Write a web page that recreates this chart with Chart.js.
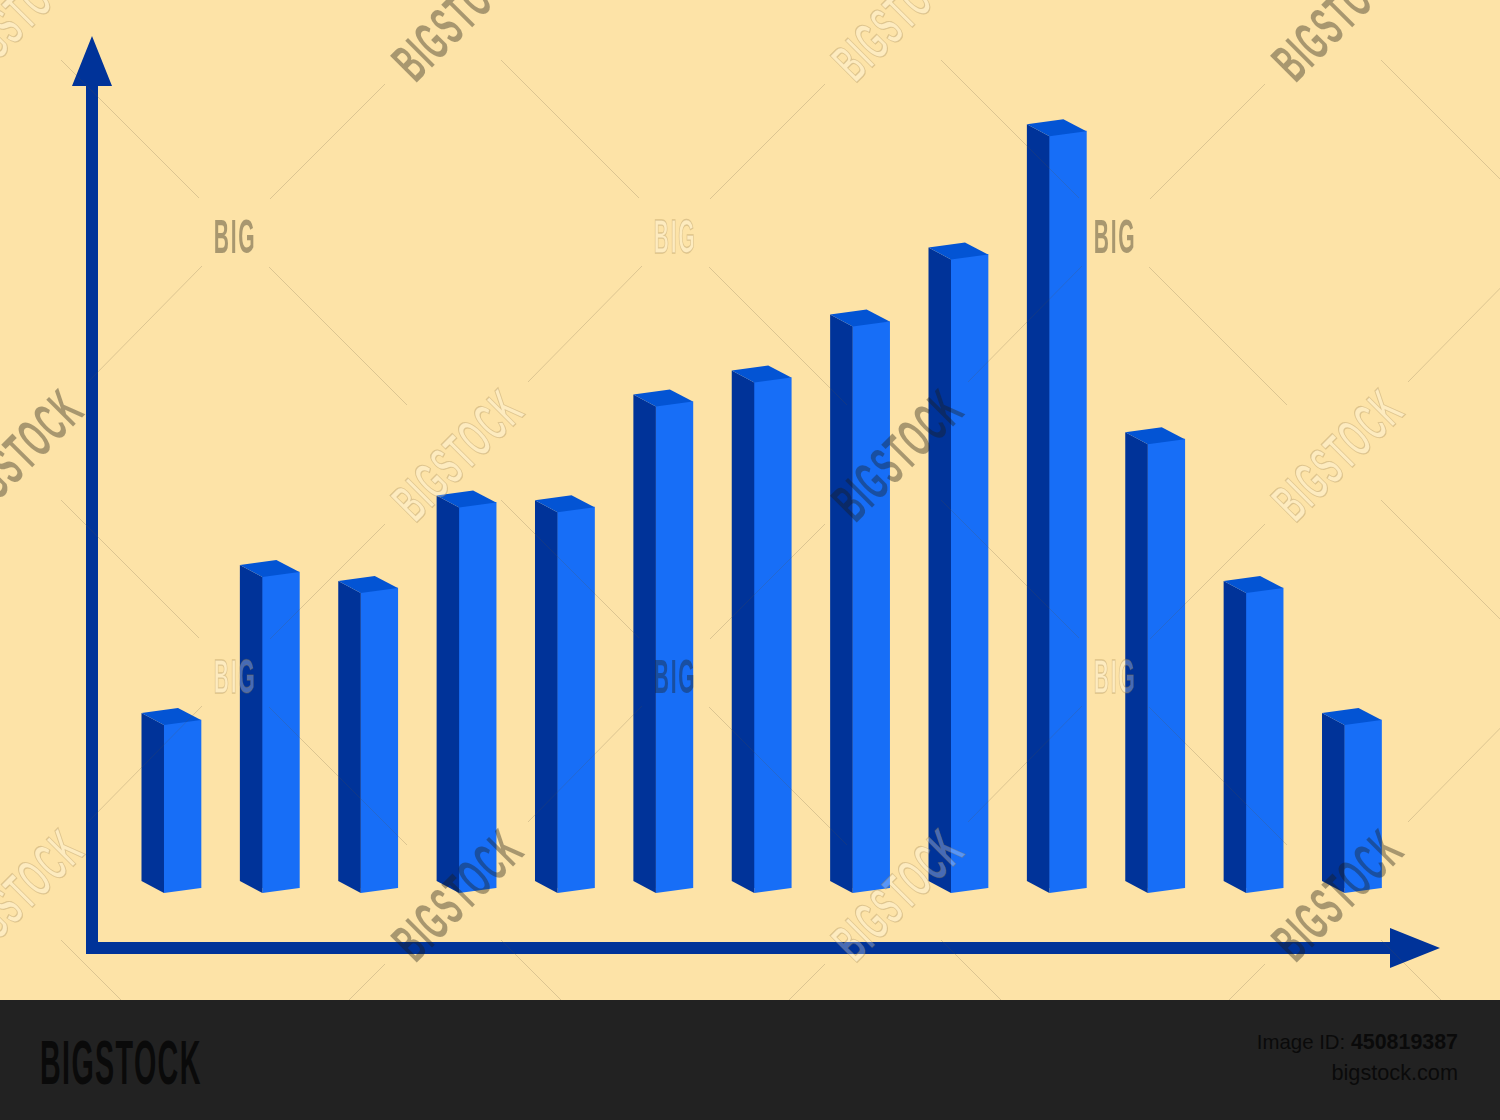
<!DOCTYPE html>
<html>
<head>
<meta charset="utf-8">
<title>Bar chart</title>
<script src="https://cdn.jsdelivr.net/npm/chart.js@4/dist/chart.umd.min.js"></script>
<style>
  html, body { margin: 0; padding: 0; background: #fde3a7; }
  #wrap { position: relative; width: 1500px; height: 1120px; overflow: hidden; }
  canvas { display: block; }
  #footer { position: absolute; left: 0; top: 1000px; width: 1500px; height: 120px; background: #222222; color: #0a0a0a; font-family: "Liberation Sans", sans-serif; }
  #logo { position: absolute; left: 40px; top: 26px; font-size: 63px; line-height: 72px; font-weight: bold; letter-spacing: 3px; transform: scaleX(0.455); transform-origin: left center; white-space: nowrap; }
  #imageId { position: absolute; right: 42px; top: 30px; font-size: 20.4px; line-height: 24px; white-space: nowrap; }
  #imageId b { font-size: 21.4px; }
  #site { position: absolute; right: 42px; top: 61px; font-size: 21.7px; line-height: 24px; white-space: nowrap; }
</style>
</head>
<body>
<div id="wrap">
  <canvas id="chart" width="1500" height="1000"></canvas>
  <div id="footer">
    <div id="logo">BIGSTOCK</div>
    <div id="imageId">Image ID: <b>450819387</b></div>
    <div id="site">bigstock.com</div>
  </div>
</div>
<script>
const categories = ['1', '2', '3', '4', '5', '6', '7', '8', '9', '10', '11', '12', '13'];
const values = [21, 39.5, 37.5, 48.2, 47.6, 60.8, 63.8, 70.8, 79.2, 94.6, 56.1, 37.5, 21];

const FRONT = '#176ef7';
const SIDE = '#003399';
const TOP = '#0354d4';
const AXIS = '#003399';

function poly(ctx, pts, color) {
  ctx.fillStyle = color;
  ctx.beginPath();
  pts.forEach((p, i) => i ? ctx.lineTo(p[0], p[1]) : ctx.moveTo(p[0], p[1]));
  ctx.closePath();
  ctx.fill();
}

// ---- 3D faces, built on the bar elements ----
const boxFaces = {
  id: 'boxFaces',
  afterDatasetsDraw(chart) {
    const ctx = chart.ctx;
    const bars = chart.getDatasetMeta(0).data;
    ctx.save();
    bars.forEach(bar => {
      const l = bar.x - bar.width / 2;
      const r = bar.x + bar.width / 2;
      const t = bar.y;
      const b = bar.base;
      // lower edge of the front slopes down to the left
      poly(ctx, [[l, b], [r, b], [l, b + 5]], FRONT);
      poly(ctx, [[l - 22.5, t - 7], [l, t + 5], [l, b + 5], [l - 22.5, b - 7]], SIDE);
      poly(ctx, [[l - 22.5, t - 7], [l + 14, t - 12], [r, t], [l, t + 5]], TOP);
    });
    ctx.restore();
  }
};

// ---- axis arrows ----
const axisArrows = {
  id: 'axisArrows',
  afterDatasetsDraw(chart) {
    const ctx = chart.ctx;
    ctx.save();
    ctx.fillStyle = AXIS;
    ctx.fillRect(86, 80, 12, 874);
    ctx.fillRect(86, 942, 1310, 12);
    poly(ctx, [[92, 36], [112, 86], [72, 86]], AXIS);
    poly(ctx, [[1440, 948], [1390, 968], [1390, 928]], AXIS);
    ctx.restore();
  }
};

function stamp(ctx, text, x, y, angle, size, squeeze, dark) {
  ctx.save();
  ctx.translate(x, y);
  ctx.rotate(angle);
  ctx.scale(squeeze, 1);
  ctx.font = 'bold ' + size + 'px "Liberation Sans"';
  ctx.letterSpacing = '4px';
  ctx.textAlign = 'center';
  ctx.textBaseline = 'alphabetic';
  const drop = size * 0.365;
  if (dark) {
    ctx.fillStyle = 'rgba(30,30,20,0.38)';
    ctx.fillText(text, 0, drop);
  } else {
    ctx.fillStyle = 'rgba(255,255,255,0.28)';
    ctx.fillText(text, 0, drop);
    ctx.strokeStyle = 'rgba(150,120,60,0.3)';
    ctx.lineWidth = 1.4;
    ctx.strokeText(text, 0, drop);
  }
  ctx.restore();
}

// ---- watermark tiles, repeating every 440px ----
const watermark = {
  id: 'watermark',
  afterDraw(chart) {
    const ctx = chart.ctx;
    ctx.save();
    ctx.strokeStyle = 'rgba(90,80,60,0.2)';
    ctx.lineWidth = 1;
    for (let i = -1; i < 4; i++) {
      for (let j = -1; j < 3; j++) {
        const ox = i * 440;
        const oy = j * 440;
        [[61, 60, 199, 198], [385, 84, 270, 199], [202, 266, 88, 382], [269, 267, 407, 405]].forEach(s => {
          ctx.beginPath();
          ctx.moveTo(s[0] + ox, s[1] + oy);
          ctx.lineTo(s[2] + ox, s[3] + oy);
          ctx.stroke();
        });
      }
    }
    for (let i = 0; i < 3; i++) {
      for (let j = 0; j < 2; j++) {
        stamp(ctx, 'BIG', 235 + i * 440, 235.5 + j * 440, 0, 49, 0.43, (i + j) % 2 === 0);
      }
    }
    for (let i = 0; i < 4; i++) {
      for (let j = 0; j < 3; j++) {
        stamp(ctx, 'BIGSTOCK', 17 + i * 440, 14 + j * 440, -Math.PI / 4, 55, 0.49, (i + j) % 2 === 1);
      }
    }
    ctx.restore();
  }
};

new Chart(document.getElementById('chart'), {
  type: 'bar',
  data: {
    labels: categories,
    datasets: [{ data: values, backgroundColor: FRONT, borderWidth: 0, barThickness: 37 }]
  },
  options: {
    responsive: false,
    animation: false,
    events: [],
    layout: { padding: { left: 133.3, right: 87.8, top: 88, bottom: 112 } },
    plugins: { legend: { display: false }, tooltip: { enabled: false } },
    scales: {
      x: { display: false, grid: { display: false } },
      y: { display: false, min: 0, max: 100, grid: { display: false } }
    }
  },
  plugins: [boxFaces, axisArrows, watermark]
});
</script>
</body>
</html>
